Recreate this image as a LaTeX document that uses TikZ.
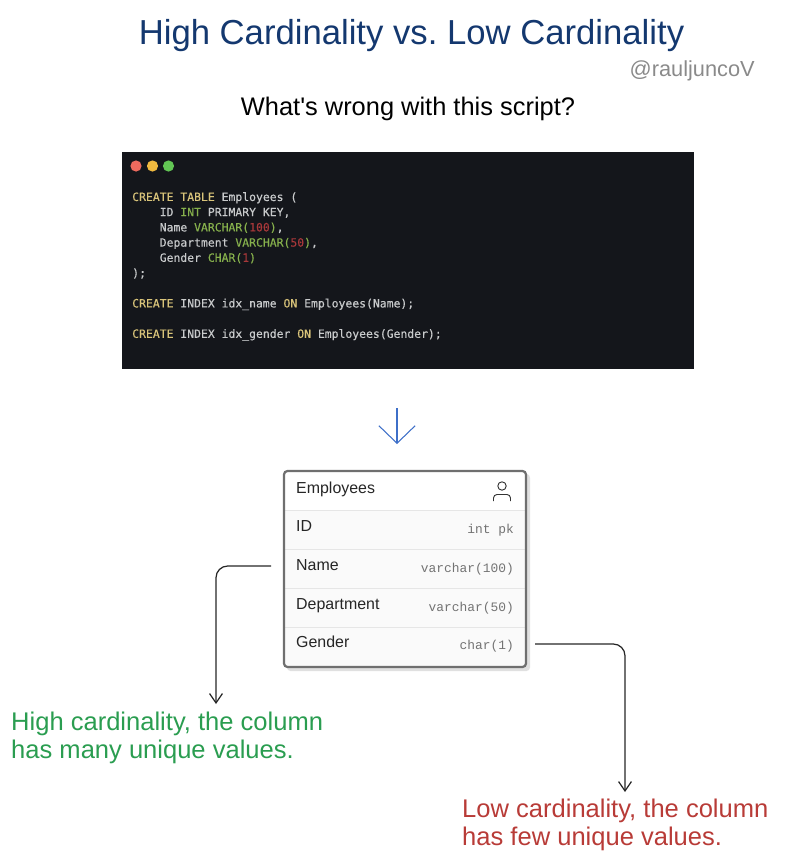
\documentclass[tikz,border=0pt]{standalone}
\usepackage{fontspec}
\setmainfont{Liberation Sans}
\setmonofont{Liberation Mono}
\newfontfamily\codefont[FakeBold=0.3]{DejaVu Sans Mono}
\newfontfamily\plainfont{Liberation Sans}
\usetikzlibrary{arrows.meta}
\definecolor{titleblue}{HTML}{14386F}
\definecolor{markgray}{HTML}{8A8A8A}
\definecolor{codebg}{HTML}{14161B}
\definecolor{codetxt}{HTML}{C9CBCC}
\definecolor{codekey}{HTML}{D9C47A}
\definecolor{codetype}{HTML}{86B04C}
\definecolor{codenum}{HTML}{A8383A}
\definecolor{tableedge}{HTML}{6F6F6F}
\definecolor{rowline}{HTML}{E6E6E6}
\definecolor{rowfill}{HTML}{FAFAFA}
\definecolor{downblue}{HTML}{3E6FC8}
\definecolor{highgreen}{HTML}{2A9D50}
\definecolor{lowred}{HTML}{B83B37}
\newcommand{\kw}[1]{\textcolor{codekey}{#1}}
\newcommand{\ty}[1]{\textcolor{codetype}{#1}}
\newcommand{\nm}[1]{\textcolor{codenum}{#1}}
\tikzset{
	rowname/.style={anchor=base west, inner sep=0pt, text=black!85, font=\fontsize{13.6}{16}\selectfont},
	rowtype/.style={anchor=base east, inner sep=0pt, text=black!55, font=\ttfamily\fontsize{11}{13}\selectfont},
	note/.style={anchor=west, inner sep=0pt, align=left, font=\fontsize{21.8}{24}\selectfont},
	conn/.style={draw=black!85, line width=1.05pt, rounded corners=10pt, -{Straight Barb[length=8pt,width=11pt]}}
}
\begin{document}
\frenchspacing
\begin{tikzpicture}[x=0.03cm,y=-0.03cm]
	\useasboundingbox (0,0) rectangle (800,864);
	\node (title) at (411.5,44) [anchor=base, inner sep=0pt, text=titleblue, font=\fontsize{29.6}{32}\selectfont] {High Cardinality vs. Low Cardinality};
	\node (mark) at (755,76) [anchor=base east, inner sep=0pt, text=markgray, font=\fontsize{18.6}{20}\selectfont] {@rauljuncoV};
	\node (question) at (408,115) [anchor=base, inner sep=0pt, font=\plainfont\fontsize{21.7}{24}\selectfont] {What's wrong with this script?};
	% code window
	\fill[codebg] (122,152) rectangle (694,369);
	\foreach \x/\c in {136/ED6A5E, 152.5/F0B93F, 168.5/62C554}{
		\definecolor{dotcol}{HTML}{\c}
		\fill[dotcol] (\x,166) circle (5.6);
	}
	\node (code) at (132,192) [anchor=north west, inner sep=0pt, align=left, text=codetxt, font=\codefont\fontsize{9.75}{12.98}\selectfont] {%
		\kw{CREATE TABLE} Employees (\\
		\hspace*{4\fontcharwd\font`0}ID \ty{INT} PRIMARY KEY,\\
		\hspace*{4\fontcharwd\font`0}Name \ty{VARCHAR(}\nm{100}\ty{)},\\
		\hspace*{4\fontcharwd\font`0}Department \ty{VARCHAR(}\nm{50}\ty{)},\\
		\hspace*{4\fontcharwd\font`0}Gender \ty{CHAR(}\nm{1}\ty{)}\\
		);\\
		\mbox{}\\
		\kw{CREATE} INDEX idx\_name \kw{ON} Employees(Name);\\
		\mbox{}\\
		\kw{CREATE} INDEX idx\_gender \kw{ON} Employees(Gender);};
	% arrow down to the table
	\coordinate (downtop) at (397,408);
	\coordinate (downtip) at (397,444);
	\draw[downblue, line width=0.9pt, -{Straight Barb[length=15pt,width=31pt]}] (downtop) -- (downtip);
	% table
	\fill[black!12, rounded corners=3pt] (287,474) rectangle (530,671);
	\fill[rowfill, rounded corners=3pt] (284,471) rectangle (526,667);
	\fill[white, rounded corners=3pt] (284,471) rectangle (526,510);
	\fill[white] (284,495) rectangle (526,510);
	\foreach \y in {510,549,588,627}{
		\draw[rowline, line width=0.6pt] (285,\y)--(525,\y);
	}
	\draw[tableedge, line width=1.9pt, rounded corners=3pt] (284,471) rectangle (526,667);
	\node (tablename) at (296,493) [rowname] {Employees};
	\foreach \i/\y/\n/\t in {id/531/ID/int pk, name/570/Name/varchar(100), dept/609/Department/varchar(50), gender/647/Gender/char(1)}{
		\node (\i label) at (296,\y) [rowname] {\n};
		\node (\i type) at (514,\y+2.5) [rowtype] {\t};
	}
	% person icon
	\draw[black!80, line width=0.8pt] (502,486) circle (4.2);
	\draw[black!80, line width=0.8pt, rounded corners=3pt] (493.5,501) -- (493.5,494.5) -- (510.5,494.5) -- (510.5,501);
	% notes
	\node (high) at (11,738) [note, text=highgreen] {High cardinality, the column\\has many unique values.};
	\node (low) at (462,825) [note, text=lowred] {Low cardinality, the column\\has few unique values.};
	% connectors
	\coordinate (nameout) at (271,566);
	\coordinate (hightip) at (216,704);
	\coordinate (genderout) at (535,644);
	\coordinate (lowtip) at (625,792);
	\draw[conn] (nameout) -| (hightip);
	\draw[conn] (genderout) -| (lowtip);
\end{tikzpicture}
\end{document}
